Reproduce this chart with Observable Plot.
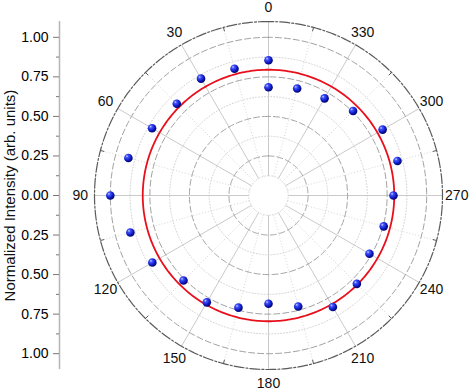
<!DOCTYPE html>
<html><head><meta charset="utf-8">
<script src="https://cdn.jsdelivr.net/npm/d3@7"></script>
<script src="https://cdn.jsdelivr.net/npm/@observablehq/plot@0.6"></script>
<style>body{margin:0;background:#fff;} #chart svg{display:block}</style>
</head><body><div id="chart"></div>
<script>
// ---- data ----
const angles = [0,15,30,45,60,75,90,105,120,135,150,165,180,195,210,225,240,255,270,285,300,315,330,345,360];
const intensity = [0.855,0.83,0.853,0.82,0.85,0.917,1.0,0.904,0.848,0.76,0.78,0.734,0.684,0.726,0.814,0.79,0.737,0.754,0.79,0.844,0.833,0.756,0.709,0.70,0.684];
const fitRadius = 0.795;
const angleLabels = [0,30,60,90,120,150,180,210,240,270,300,330];
const minorAngles = [15,45,75,105,135,165,195,225,255,285,315,345];
const radialTicks = [-1,-0.75,-0.5,-0.25,0,0.25,0.5,0.75,1];
const radialMinorTicks = [-0.875,-0.625,-0.375,-0.125,0.125,0.375,0.625,0.875];
const majorRings = [0.25,0.5,0.75,1.0];
const minorRings = [0.125,0.375,0.625,0.875];
const outerRing = 1.1;
const innerHole = 0.125;
const labelRadius = 1.19;
const yLabel = "Normalized Intensity (arb. units)";

// ---- helpers (polar -> cartesian, 0 at top, counter-clockwise) ----
const rad = d => d * Math.PI / 180;
const px = (a, r) => -r * Math.sin(rad(a));
const py = (a, r) => r * Math.cos(rad(a));
const sweep = d3.range(0, 361, 1);
const ringPts = rings => rings.flatMap(r => sweep.map(a => ({a, r})));
const points = angles.map((a, i) => ({a, r: intensity[i]}));

const X = d => px(d.a, d.r), Y = d => py(d.a, d.r);

const chart = Plot.plot({
  width: 474, height: 390,
  marginTop: 21, marginBottom: 21, marginLeft: 94, marginRight: 32,
  x: {domain: [-outerRing, outerRing], axis: null},
  y: {domain: [-outerRing, outerRing]},
  style: {fontFamily: "'Liberation Sans', Arial, sans-serif", fontSize: "14px", color: "#000", background: "#fff"},
  marks: [
    // minor rings (dotted)
    Plot.line(ringPts(minorRings), {x: X, y: Y, z: "r", stroke: "#d4d4d4", strokeWidth: 1, strokeDasharray: "1,2"}),
    // minor spokes (dotted)
    Plot.link(minorAngles, {x1: a => px(a, innerHole), y1: a => py(a, innerHole), x2: a => px(a, outerRing), y2: a => py(a, outerRing), stroke: "#d6d6d6", strokeDasharray: "1,2"}),
    // major spokes
    Plot.link(angleLabels, {x1: a => px(a, innerHole), y1: a => py(a, innerHole), x2: a => px(a, outerRing), y2: a => py(a, outerRing), stroke: "#cacaca", strokeWidth: 1}),
    // major rings (dashed)
    Plot.line(ringPts(majorRings), {x: X, y: Y, z: "r", stroke: "#a0a0a0", strokeWidth: 1, strokeDasharray: "6,3"}),
    // outer ring
    Plot.line(ringPts([outerRing]), {x: X, y: Y, stroke: "#5a5a5a", strokeWidth: 1.2, strokeDasharray: "10,2,2,2"}),
    // outer ring minor ticks (inward)
    Plot.link(minorAngles, {x1: a => px(a, outerRing - 0.025), y1: a => py(a, outerRing - 0.025), x2: a => px(a, outerRing), y2: a => py(a, outerRing), stroke: "#5a5a5a"}),
    // fitted circle
    Plot.line(ringPts([fitRadius]), {x: X, y: Y, stroke: "#e8101c", strokeWidth: 1.8}),
    // data points
    Plot.dot(points, {x: X, y: Y, r: 4.3, fill: "url(#ball)", stroke: "none"}),
    // angle labels
    Plot.text(angleLabels, {x: a => px(a, labelRadius), y: a => py(a, labelRadius), text: d => String(d), fontSize: 14, fill: "#111"}),
    // radial (left) axis
    Plot.ruleX([-outerRing], {y1: -outerRing, y2: outerRing, dx: -35, stroke: "#b5b5b5", strokeWidth: 1.5}),
    Plot.axisY({ticks: radialTicks, tickFormat: d => Math.abs(d).toFixed(2), dx: -35, tickSize: 6, tickPadding: 5, fontSize: 14, stroke: "#777", label: null}),
    Plot.axisY({ticks: radialMinorTicks, tickFormat: () => "", dx: -35, tickSize: 3, stroke: "#777", label: null}),
    Plot.text([yLabel], {frameAnchor: "left", textAnchor: "middle", rotate: -90, dx: -84, fontSize: 15, fill: "#111"})
  ]
});

// sphere-like gradient for the points
const ns = "http://www.w3.org/2000/svg";
const defs = document.createElementNS(ns, "defs");
defs.innerHTML = `<radialGradient id="ball" cx="0.38" cy="0.35" r="0.7" fx="0.33" fy="0.3">
  <stop offset="0" stop-color="#d8dcff"/>
  <stop offset="0.22" stop-color="#4455ff"/>
  <stop offset="0.65" stop-color="#0c18c0"/>
  <stop offset="1" stop-color="#00005a"/>
</radialGradient>`;
chart.insertBefore(defs, chart.firstChild);
document.getElementById("chart").appendChild(chart);
</script>
</body></html>
